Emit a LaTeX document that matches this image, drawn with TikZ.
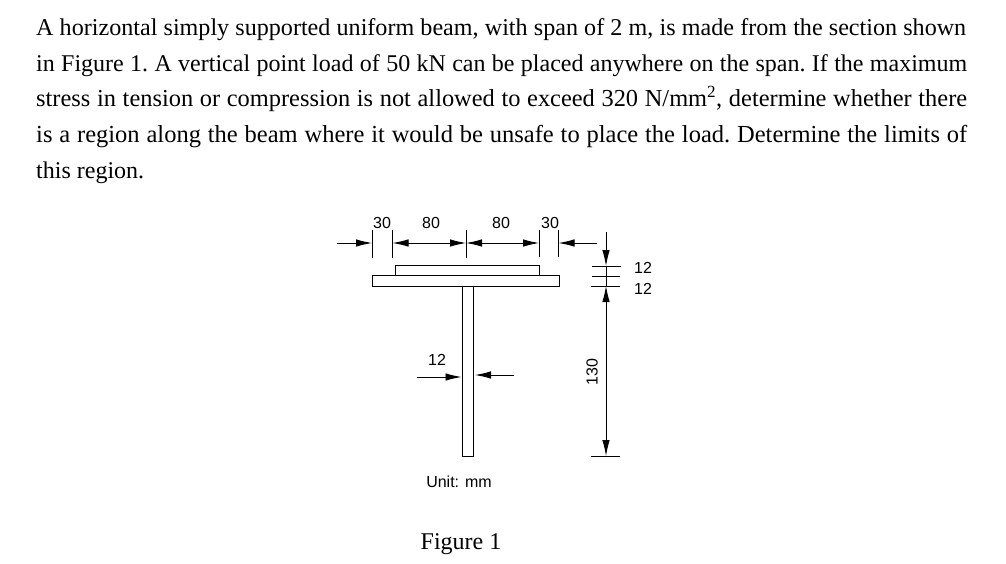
\documentclass[tikz,border=0pt]{standalone}
\usepackage{fontspec}
\setmainfont{Liberation Serif}
\newfontfamily\dimfont{Liberation Sans}
\usetikzlibrary{arrows.meta}
\newcommand{\fitline}[3]{\fontsize{#1}{28}\selectfont\makebox[#2pt][s]{\frenchspacing #3}}
\tikzset{
  para/.style={anchor=base west,inner sep=0pt,font=\fontsize{24}{28}\selectfont},
  dimtext/.style={inner sep=0pt,font=\dimfont\fontsize{16}{19}\selectfont},
  part/.style={draw=black,line width=0.9pt,fill=white,inner sep=0pt},
  tick/.style={draw=black,line width=1pt},
  dimline/.style={draw=black,line width=0.9pt},
  dimarrow/.style={dimline,-{Latex[length=16pt,width=7.5pt]}},
  dimboth/.style={dimline,{Latex[length=16pt,width=7.5pt]}-{Latex[length=16pt,width=7.5pt]}}
}
\begin{document}
\begin{tikzpicture}[x=1pt,y=-1pt]
\useasboundingbox (0,0) rectangle (1006,564);
% paragraph
\node[para] (l1) at (36,35.7) {\fitline{24.1}{930}{A horizontal simply supported uniform beam, with span of 2 m, is made from the section shown}};
\node[para] (l2) at (36,71.5) {\fitline{24}{931}{in Figure 1. A vertical point load of 50 kN can be placed anywhere on the span. If the maximum}};
\node[para] (l3) at (36,107) {\fitline{24.4}{931}{stress in tension or compression is not allowed to exceed 320 N/mm\textsuperscript{2}, determine whether there}};
\node[para] (l4) at (36,142.7) {\fitline{24.5}{931}{is a region along the beam where it would be unsafe to place the load. Determine the limits of}};
\node[para] (l5) at (36,178.5) {this region.};
% section
\node[part,minimum width=144pt,minimum height=9.5pt] (top) at (467,270.5) {};
\node[part,minimum width=187pt,minimum height=11pt] (flange) at (465.7,280.7) {};
\node[part,minimum width=11pt,minimum height=170pt] (web) at (467.5,371) {};
% horizontal dimension ticks
\coordinate (t1a) at (372,230); \coordinate (t1b) at (372,258);
\coordinate (t2a) at (392.5,230); \coordinate (t2b) at (392.5,258);
\coordinate (t3a) at (466,230); \coordinate (t3b) at (466,258);
\coordinate (t4a) at (539,230); \coordinate (t4b) at (539,257);
\coordinate (t5a) at (558,230); \coordinate (t5b) at (558,257);
\foreach \n in {1,...,5} \draw[tick] (t\n a) -- (t\n b);
\coordinate (hl) at (337,243); \coordinate (h1) at (372,243); \coordinate (h2) at (392.5,243);
\coordinate (h3) at (466,243); \coordinate (h4) at (539,243); \coordinate (h5) at (558.5,243);
\coordinate (hr) at (597,243);
\draw[dimarrow] (hl) -- (h1);
\draw[dimboth] (h2) -- (h3);
\draw[dimboth] (h3) -- (h4);
\draw[dimarrow] (hr) -- (h5);
% vertical dimension
\coordinate (v0) at (606,232); \coordinate (v1) at (606,266); \coordinate (v2) at (606,276);
\coordinate (v3) at (606,286); \coordinate (v4) at (606,456);
\draw[tick] (592,266) -- (621,266);
\draw[tick] (592,276) -- (620,276);
\draw[tick] (591,286) -- (620,286);
\draw[tick] (591,456) -- (620,456);
\draw[dimline] (v1) -- (v3);
\draw[dimarrow] (v0) -- (v1);
\draw[dimboth] (v3) -- (v4);
% web thickness
\coordinate (wl) at (417,377); \coordinate (wla) at (461.5,377);
\coordinate (wr) at (514,375); \coordinate (wra) at (475,375);
\draw[dimarrow] (wl) -- (wla);
\draw[dimarrow] (wr) -- (wra);
% labels
\node[dimtext] (d30a) at (382,223) {30};
\node[dimtext] (d80a) at (431,223) {80};
\node[dimtext] (d80b) at (501,223) {80};
\node[dimtext] (d30b) at (550,223) {30};
\node[dimtext] (d12a) at (643,268) {12};
\node[dimtext] (d12b) at (643,289) {12};
\node[dimtext] (d12c) at (437,360) {12};
\node[dimtext,rotate=90] (d130) at (592,372) {130};
\node[dimtext] (unit) at (459,482) {Unit: mm};
\node[inner sep=0pt,font=\fontsize{24}{28}\selectfont] (fig) at (461,544) {Figure 1};
\end{tikzpicture}
\end{document}
